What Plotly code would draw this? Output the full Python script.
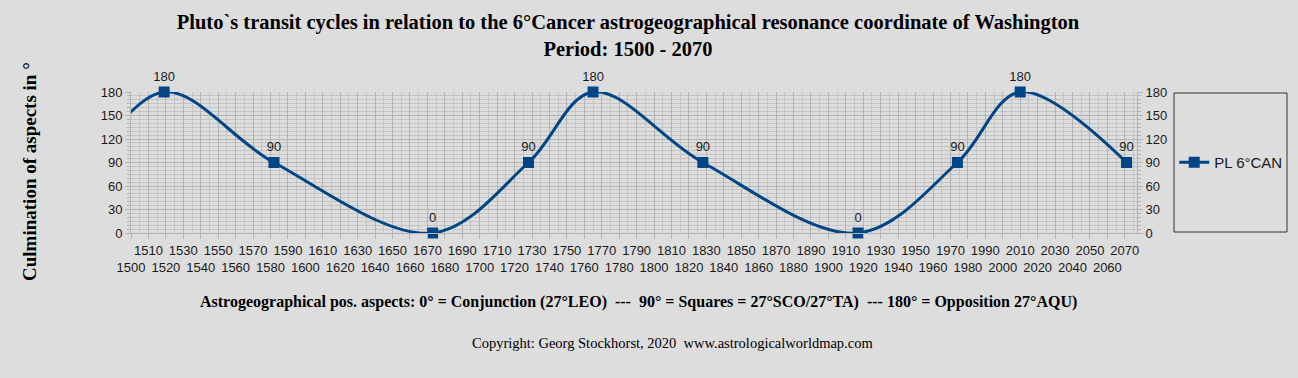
import plotly.graph_objects as go

# ---- data ----
years = [1477, 1519, 1582, 1673, 1728, 1765, 1828, 1917, 1974, 2010, 2071]
aspect = [90, 180, 90, 0, 90, 180, 90, 0, 90, 180, 90]
series_name = "PL 6°CAN"
x_ticks = list(range(1500, 2071, 10))
y_ticks = [0, 30, 60, 90, 120, 150, 180]

title_text = ("Pluto`s transit cycles in relation to the 6°Cancer astrogeographical "
              "resonance coordinate of Washington<br>Period: 1500 - 2070")
y_title = "Culmination of aspects in °"
note_text = ("Astrogeographical pos. aspects: 0° = Conjunction (27°LEO)  ---  90° = Squares = "
             "27°SCO/27°TA)  --- 180° = Opposition 27°AQU)")
copyright_text = "Copyright: Georg Stockhorst, 2020  www.astrologicalworldmap.com"

X_MIN, X_MAX = 1500, 2077
BG = "#dddddd"
BLUE = "#004586"
TICKFONT = dict(family="Liberation Sans Narrow, Arial Narrow, Liberation Sans, Arial", size=13, color="#1a1a1a")
SERIF = "Liberation Serif, Times New Roman, serif"

# staggered tick labels (two rows)
tick_text = [(str(v) if (i % 2 == 1) else "<br>" + str(v)) for i, v in enumerate(x_ticks)]

in_range = [X_MIN <= x <= X_MAX for x in years]
mk_x = [x for x, ok in zip(years, in_range) if ok]
mk_y = [y for y, ok in zip(aspect, in_range) if ok]

fig = go.Figure()
# smooth line (clipped to plot area)
fig.add_trace(go.Scatter(
    x=years, y=aspect, mode="lines", line=dict(color=BLUE, width=3, shape="spline", smoothing=1.0),
    showlegend=False, hoverinfo="skip"))
# markers + data labels (not clipped)
fig.add_trace(go.Scatter(
    x=mk_x, y=mk_y, mode="markers+text", showlegend=False,
    marker=dict(symbol="square", size=11, color=BLUE),
    text=[str(v) for v in mk_y], textposition="top center",
    textfont=dict(family=TICKFONT["family"], size=13, color="#1a1a1a"),
    cliponaxis=False))
# legend entry
fig.add_trace(go.Scatter(
    x=[None], y=[None], mode="lines+markers", name=series_name,
    line=dict(color=BLUE, width=3), marker=dict(symbol="square", size=11, color=BLUE)))
# right axis carrier
fig.add_trace(go.Scatter(x=[None], y=[None], yaxis="y2", showlegend=False, hoverinfo="skip"))

fig.update_layout(
    width=1298, height=378,
    paper_bgcolor=BG, plot_bgcolor=BG,
    margin=dict(l=131, r=161, t=92, b=145, autoexpand=False),
    title=dict(text=title_text, x=0.4838, xref="container", xanchor="center",
               y=1 - 29 / 378, yref="container", yanchor="top",
               font=dict(family=SERIF, size=20.5, color="black", weight="bold")),
    xaxis=dict(range=[X_MIN, X_MAX], tickvals=x_ticks, ticktext=tick_text,
               showgrid=True, gridcolor="#b3b3b3", gridwidth=1,
               minor=dict(dtick=5, showgrid=True, gridcolor="#c4c4c4", ticks=""),
               ticks="outside", ticklen=5, tickcolor="#b3b3b3",
               showline=True, linecolor="#b3b3b3", zeroline=False,
               tickfont=TICKFONT, tickangle=0),
    yaxis=dict(range=[0, 180], tickvals=y_ticks, showgrid=True, gridcolor="#b3b3b3",
               minor=dict(dtick=5, showgrid=True, gridcolor="#c4c4c4", ticks="outside",
                          ticklen=3, tickcolor="#b3b3b3"),
               ticks="outside", ticklen=5, tickcolor="#b3b3b3",
               showline=True, linecolor="#b3b3b3", zeroline=False, tickfont=TICKFONT),
    yaxis2=dict(range=[0, 180], tickvals=y_ticks, overlaying="y", side="right",
                ticks="outside", ticklen=5, tickcolor="#b3b3b3",
                minor=dict(dtick=5, ticks="outside", ticklen=3, tickcolor="#b3b3b3"),
                showline=True, linecolor="#b3b3b3", showgrid=False, zeroline=False,
                tickfont=TICKFONT),
    legend=dict(x=1.037, xanchor="left", y=0.5, yanchor="middle", bgcolor="rgba(0,0,0,0)",
                font=dict(family=TICKFONT["family"], size=15, color="#1a1a1a"),
                itemwidth=30),
    showlegend=True,
)

# legend frame
fig.add_shape(type="rect", xref="paper", yref="paper", x0=1.0368, x1=1.1491, y0=0.007, y1=0.993,
              line=dict(color="#333333", width=1), fillcolor="rgba(0,0,0,0)", layer="above")

fig.add_annotation(text=y_title, xref="paper", yref="paper", x=-0.1004, y=0.44, textangle=-90,
                   xanchor="center", yanchor="middle", showarrow=False,
                   font=dict(family=SERIF, size=19, color="black", weight="bold"))
fig.add_annotation(text=note_text, xref="paper", yref="paper", x=0.504, y=-0.489,
                   xanchor="center", yanchor="middle", showarrow=False,
                   font=dict(family=SERIF, size=16, color="black", weight="bold"))
fig.add_annotation(text=copyright_text, xref="paper", yref="paper", x=0.5378, y=-0.78,
                   xanchor="center", yanchor="middle", showarrow=False,
                   font=dict(family=SERIF, size=14.5, color="black"))

fig.write_html("out.html", config={"displayModeBar": False},
               post_script="document.body.style.margin='0';")
